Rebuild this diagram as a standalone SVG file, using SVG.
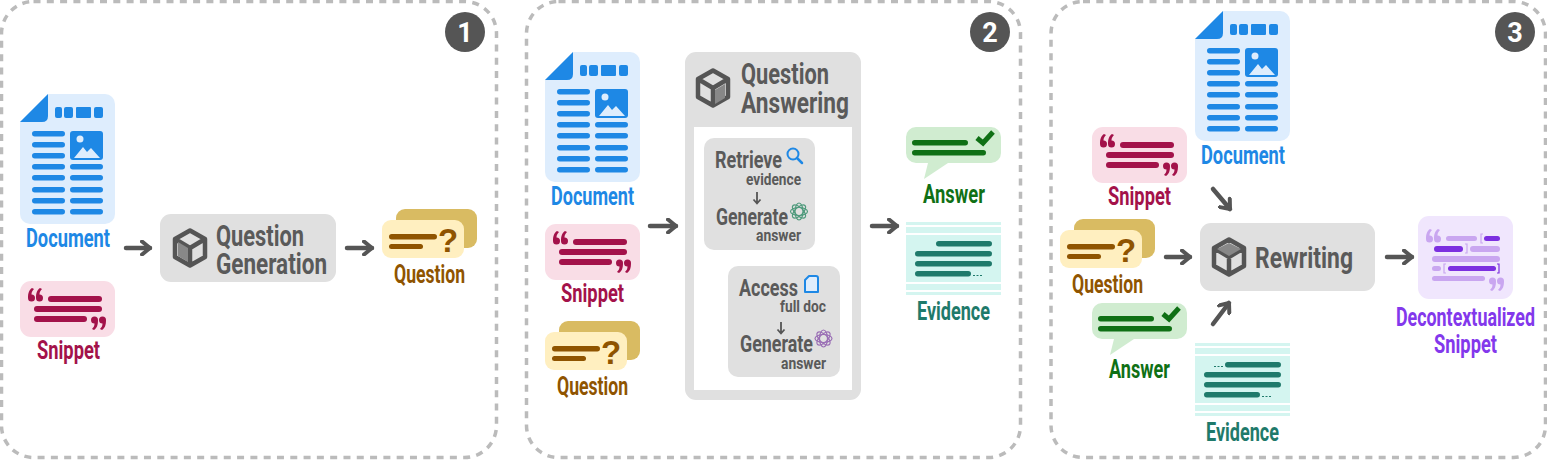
<svg xmlns="http://www.w3.org/2000/svg" xmlns:xlink="http://www.w3.org/1999/xlink" width="1547" height="460" viewBox="0 0 1547 460">
<style>
text{font-family:"Roboto","Liberation Sans",sans-serif}
.panel{fill:#fff;stroke:#bbb;stroke-width:3.5;stroke-dasharray:7 6.3}
.badge{fill:#555}
.num{fill:#fff;font-size:27px;font-weight:700;text-anchor:middle}
.box{fill:#e0e0e0}
.t{fill:#5a5a5a;font-size:30px;font-weight:700}
.m{fill:#5a5a5a;font-size:24px;font-weight:700}
.s{fill:#5a5a5a;font-size:17px;font-weight:700}
.lb{font-size:25px;font-weight:700}
.arr{fill:none;stroke:#555;stroke-width:4.500;stroke-linecap:round;stroke-linejoin:round}
.blue{fill:#1e88e5}.red{fill:#a3124a}.brown{fill:#8f5400}.green{fill:#0f7015}.teal{fill:#1f7a6b}.pur{fill:#8338ec}
.lt{fill:#c9a6f0}.dk{fill:#7c2fe0}
.cube{fill:none;stroke:#555;stroke-width:4.500;stroke-linejoin:round}
.face{fill:#888}
</style>
<defs>
<marker id="ah" viewBox="0 0 12 16" refX="10" refY="8" markerWidth="12" markerHeight="16" markerUnits="userSpaceOnUse" orient="auto"><path d="M2 1.5 L10 8 L2 14.500" fill="none" stroke="#555" stroke-width="4" stroke-linecap="round" stroke-linejoin="round"/></marker>
<g id="doc">
<path d="M28 0H85a10 10 0 0 1 10 10V120a10 10 0 0 1-10 10H10a10 10 0 0 1-10-10V28z" fill="#deedfd"/>
<path d="M0 28L28 0V22q0 6-6 6z" class="blue"/>
<g class="blue">
<rect x="35" y="13" width="7" height="11" rx="2"/><rect x="44" y="13" width="9" height="11" rx="2"/><rect x="56" y="13" width="15" height="11" rx="1"/><rect x="74" y="13" width="9" height="11" rx="2"/>
<rect x="12" y="37" width="33" height="5.500" rx="2.750"/><rect x="12" y="48" width="33" height="5.500" rx="2.750"/><rect x="12" y="59" width="33" height="5.500" rx="2.750"/><rect x="12" y="70" width="33" height="5.500" rx="2.750"/><rect x="12" y="81" width="33" height="5.500" rx="2.750"/><rect x="12" y="93" width="33" height="5.500" rx="2.750"/><rect x="12" y="104" width="33" height="5.500" rx="2.750"/><rect x="12" y="115" width="33" height="5.500" rx="2.750"/>
<rect x="50" y="70" width="33" height="5.500" rx="2.750"/><rect x="50" y="81" width="33" height="5.500" rx="2.750"/><rect x="50" y="93" width="33" height="5.500" rx="2.750"/><rect x="50" y="104" width="33" height="5.500" rx="2.750"/><rect x="50" y="115" width="33" height="5.500" rx="2.750"/>
<rect x="50" y="37" width="33" height="29" rx="3"/>
</g>
<circle cx="60" cy="45" r="3.500" fill="#deedfd"/><path d="M54 64L63 53L67 58L71 54L80 64z" fill="#deedfd"/>
</g>
<path id="q66" d="M4 0C1 2 0 5 0 10a3.500 3.500 0 1 0 3.500-3.500C3.500 4 4.500 2.500 6 1zM12 0C9 2 8 5 8 10a3.500 3.500 0 1 0 3.500-3.500C11.500 4 12.500 2.500 14 1z"/>
<path id="q99" d="M10 14C13 12 14 9 14 4a3.500 3.500 0 1 0-3.500 3.500C10.500 10 9.500 11.500 8 13zM2 14C5 12 6 9 6 4a3.500 3.500 0 1 0-3.500 3.500C2.500 10 1.500 11.500 0 13z"/>
<g id="snip">
<rect width="95" height="56" rx="11" fill="#f9dde6"/>
<g class="red"><use xlink:href="#q66" x="8" y="7"/><use xlink:href="#q99" x="72" y="35"/>
<rect x="28" y="15" width="54" height="6" rx="3"/><rect x="14" y="25" width="68" height="6" rx="3"/><rect x="14" y="35" width="53" height="6" rx="3"/></g>
</g>
<g id="ques">
<rect x="14" y="0" width="81" height="39" rx="9" fill="#d9bb62"/>
<rect x="0" y="11" width="82" height="38" rx="9" fill="#ffefc0"/>
<g class="brown"><rect x="7" y="25" width="48" height="5.500" rx="2.750"/><rect x="7" y="35" width="34" height="5" rx="2.500"/>
<text x="66" y="43" font-size="33" font-weight="700" text-anchor="middle" style="font-family:'Liberation Sans',sans-serif">?</text></g>
</g>
<g id="ans">
<path d="M10 0H85a10 10 0 0 1 10 10V26a10 10 0 0 1-10 10H42L18 52L22 36H10a10 10 0 0 1-10-10V10a10 10 0 0 1 10-10z" fill="#d0ecd0"/>
<g class="green"><rect x="6" y="13" width="56" height="5.500" rx="2.750"/><rect x="6" y="23" width="74" height="5.500" rx="2.750"/></g>
<path d="M71 11L77 16L87 5" fill="none" stroke="#0f7015" stroke-width="5"/>
</g>
<g id="evid">
<g fill="#d4f5f0"><rect width="95" height="3"/><rect y="5" width="95" height="6"/><rect y="13" width="95" height="47"/><rect y="62" width="95" height="6"/><rect y="70" width="95" height="3"/></g>
<g class="teal"><rect x="30" y="19" width="56" height="5.500" rx="2.750"/><rect x="9" y="29" width="77" height="5.500" rx="2.750"/><rect x="9" y="39" width="77" height="5.500" rx="2.750"/><rect x="9" y="49" width="56" height="5.500" rx="2.750"/><rect x="67" y="53" width="2" height="1"/><rect x="70.500" y="53" width="2" height="1"/><rect x="74" y="53" width="2" height="1"/></g>
</g>
<g id="cb"><path class="cube" d="M0-17.500L15-9V9L0 17.500L-15 9V-9zM-15-9L0 0L15-9M0 0V17.500"/></g>
<g id="knot" fill="none" stroke-width="1.200"><ellipse rx="8.500" ry="4"/><ellipse rx="8.500" ry="4" transform="rotate(45)"/><ellipse rx="8.500" ry="4" transform="rotate(90)"/><ellipse rx="8.500" ry="4" transform="rotate(135)"/></g>
</defs>

<g id="panel-1"><rect class="panel" x="1.500" y="1.500" width="495" height="456" rx="32"/><circle class="badge" cx="465" cy="32" r="20"/><text class="num" x="465" y="42">1</text></g>
<g id="panel-2"><rect class="panel" x="526.500" y="1.500" width="494" height="456" rx="32"/><circle class="badge" cx="990" cy="32" r="20"/><text class="num" x="990" y="42">2</text></g>
<g id="panel-3"><rect class="panel" x="1051" y="1.500" width="494.500" height="456" rx="32"/><circle class="badge" cx="1515" cy="32" r="20"/><text class="num" x="1515" y="42">3</text></g>

<g id="connectors" class="arr">
<path marker-end="url(#ah)" d="M126 248H150"/>
<path marker-end="url(#ah)" d="M347 248H372"/>
<path marker-end="url(#ah)" d="M650 226H676"/>
<path marker-end="url(#ah)" d="M872 226H897"/>
<path marker-end="url(#ah)" d="M1166 257H1190"/>
<path marker-end="url(#ah)" d="M1387 257H1412"/>
<path marker-end="url(#ah)" d="M1213 189L1230 209"/>
<path marker-end="url(#ah)" d="M1213 324L1229 303"/>
</g>

<g id="p1-document"><use xlink:href="#doc" x="20" y="94"/><text class="lb blue" x="26" y="247" textLength="84" lengthAdjust="spacingAndGlyphs">Document</text></g>
<g id="p1-snippet"><use xlink:href="#snip" x="20" y="281"/><text class="lb red" x="37" y="359" textLength="63" lengthAdjust="spacingAndGlyphs">Snippet</text></g>
<g id="p1-generation"><rect class="box" x="160" y="214" width="176" height="68" rx="11"/><use xlink:href="#cb" x="190" y="248"/><path class="face" d="M178 242L188 248V262L178 256z"/><text class="t" x="216" y="246" textLength="88" lengthAdjust="spacingAndGlyphs">Question</text><text class="t" x="216" y="274" textLength="111" lengthAdjust="spacingAndGlyphs">Generation</text></g>
<g id="p1-question"><use xlink:href="#ques" x="382" y="209"/><text class="lb brown" x="394" y="283" textLength="71" lengthAdjust="spacingAndGlyphs">Question</text></g>

<g id="p2-document"><use xlink:href="#doc" x="545" y="52"/><text class="lb blue" x="551" y="205" textLength="83" lengthAdjust="spacingAndGlyphs">Document</text></g>
<g id="p2-snippet"><use xlink:href="#snip" x="545" y="224"/><text class="lb red" x="561" y="302" textLength="63" lengthAdjust="spacingAndGlyphs">Snippet</text></g>
<g id="p2-question"><use xlink:href="#ques" x="545" y="321"/><text class="lb brown" x="557" y="395" textLength="71" lengthAdjust="spacingAndGlyphs">Question</text></g>
<g id="p2-answering">
<rect class="box" x="685" y="52" width="176" height="348" rx="11"/><rect x="694" y="127" width="158" height="263" fill="#fff"/>
<use xlink:href="#cb" x="713" y="88"/><path class="face" d="M715 90L725 84V98L715 104z"/>
<text class="t" x="741" y="84" textLength="88" lengthAdjust="spacingAndGlyphs">Question</text><text class="t" x="741" y="113" textLength="108" lengthAdjust="spacingAndGlyphs">Answering</text>
<g id="p2-retrieve"><rect class="box" x="704" y="138" width="111" height="112" rx="10"/>
<text class="m" x="715" y="168" textLength="67" lengthAdjust="spacingAndGlyphs">Retrieve</text>
<circle cx="793" cy="154" r="5.500" fill="none" stroke="#1e88e5" stroke-width="2"/><path d="M797 158L802 163" stroke="#1e88e5" stroke-width="2.500" stroke-linecap="round"/>
<text class="s" x="746" y="185" textLength="55" lengthAdjust="spacingAndGlyphs">evidence</text>
<path d="M757 192V203M753.500 199.500L757 203.500L760.500 199.500" fill="none" stroke="#555" stroke-width="1.800"/>
<text class="m" x="716" y="225" textLength="72" lengthAdjust="spacingAndGlyphs">Generate</text>
<use xlink:href="#knot" x="799" y="211.500" stroke="#4f9a7c"/>
<text class="s" x="756" y="241" textLength="45" lengthAdjust="spacingAndGlyphs">answer</text></g>
<g id="p2-access"><rect class="box" x="728" y="266" width="112" height="111" rx="10"/>
<text class="m" x="739" y="296" textLength="59" lengthAdjust="spacingAndGlyphs">Access</text>
<path d="M809 276H816a2 2 0 0 1 2 2V292H805V280z" fill="#deedfd" stroke="#1e88e5" stroke-width="2" stroke-linejoin="round"/>
<text class="s" x="780" y="312" textLength="46" lengthAdjust="spacingAndGlyphs">full doc</text>
<path d="M781 322V333M777.500 329.500L781 333.500L784.500 329.500" fill="none" stroke="#555" stroke-width="1.800"/>
<text class="m" x="740" y="352" textLength="73" lengthAdjust="spacingAndGlyphs">Generate</text>
<use xlink:href="#knot" x="823.500" y="338.500" stroke="#9a6fb5"/>
<text class="s" x="781" y="369" textLength="45" lengthAdjust="spacingAndGlyphs">answer</text></g>
</g>
<g id="p2-answer"><use xlink:href="#ans" x="906" y="127"/><text class="lb green" x="923" y="203" textLength="62" lengthAdjust="spacingAndGlyphs">Answer</text></g>
<g id="p2-evidence"><use xlink:href="#evid" x="906" y="222"/><text class="lb teal" x="917" y="320" textLength="73" lengthAdjust="spacingAndGlyphs">Evidence</text></g>

<g id="p3-document"><use xlink:href="#doc" x="1195" y="11"/><text class="lb blue" x="1201" y="164" textLength="84" lengthAdjust="spacingAndGlyphs">Document</text></g>
<g id="p3-snippet"><use xlink:href="#snip" x="1092" y="127"/><text class="lb red" x="1108" y="205" textLength="63" lengthAdjust="spacingAndGlyphs">Snippet</text></g>
<g id="p3-question"><use xlink:href="#ques" x="1060" y="219"/><text class="lb brown" x="1072" y="293" textLength="71" lengthAdjust="spacingAndGlyphs">Question</text></g>
<g id="p3-answer"><use xlink:href="#ans" x="1092" y="303"/><text class="lb green" x="1109" y="378" textLength="61" lengthAdjust="spacingAndGlyphs">Answer</text></g>
<g id="p3-evidence"><use xlink:href="#evid" x="1195" y="343"/><g class="teal"><rect x="1214" y="366" width="2" height="1"/><rect x="1217.500" y="366" width="2" height="1"/><rect x="1221" y="366" width="2" height="1"/></g><text class="lb teal" x="1206" y="441" textLength="73" lengthAdjust="spacingAndGlyphs">Evidence</text></g>
<g id="p3-rewriting"><rect class="box" x="1200" y="223" width="175" height="68" rx="11"/><use xlink:href="#cb" x="1229" y="257"/><path class="face" d="M1229 243L1241 249L1229 256L1217 249z"/><text class="t" x="1255" y="268" textLength="98" lengthAdjust="spacingAndGlyphs">Rewriting</text></g>
<g id="p3-decontextualized">
<rect x="1418" y="216" width="95" height="83" rx="11" fill="#f0e6fd"/>
<g class="lt"><use xlink:href="#q66" x="1426" y="229"/><use xlink:href="#q99" x="1490" y="277"/>
<rect x="1446" y="236" width="31" height="5" rx="2.500"/><rect x="1470" y="246" width="30" height="6" rx="3"/><rect x="1432" y="256" width="68" height="6" rx="3"/><rect x="1432" y="266" width="9" height="5" rx="2.500"/><rect x="1432" y="276" width="53" height="5" rx="2.500"/></g>
<g class="dk"><rect x="1484" y="236" width="16" height="5" rx="2.500"/><rect x="1434" y="246" width="29" height="6" rx="3"/><rect x="1448" y="266" width="48" height="5" rx="2.500"/></g>
<path d="M1483 234H1481V243H1483M1465 244H1467V253H1465M1446 264H1444V273H1446" fill="none" stroke="#c9a6f0" stroke-width="1.200"/>
<path d="M1497 264H1499V273H1497" fill="none" stroke="#7c2fe0" stroke-width="1.200"/>
<text class="lb pur" x="1396" y="326" textLength="139" lengthAdjust="spacingAndGlyphs">Decontextualized</text>
<text class="lb pur" x="1434" y="353" textLength="63" lengthAdjust="spacingAndGlyphs">Snippet</text>
</g>
</svg>
